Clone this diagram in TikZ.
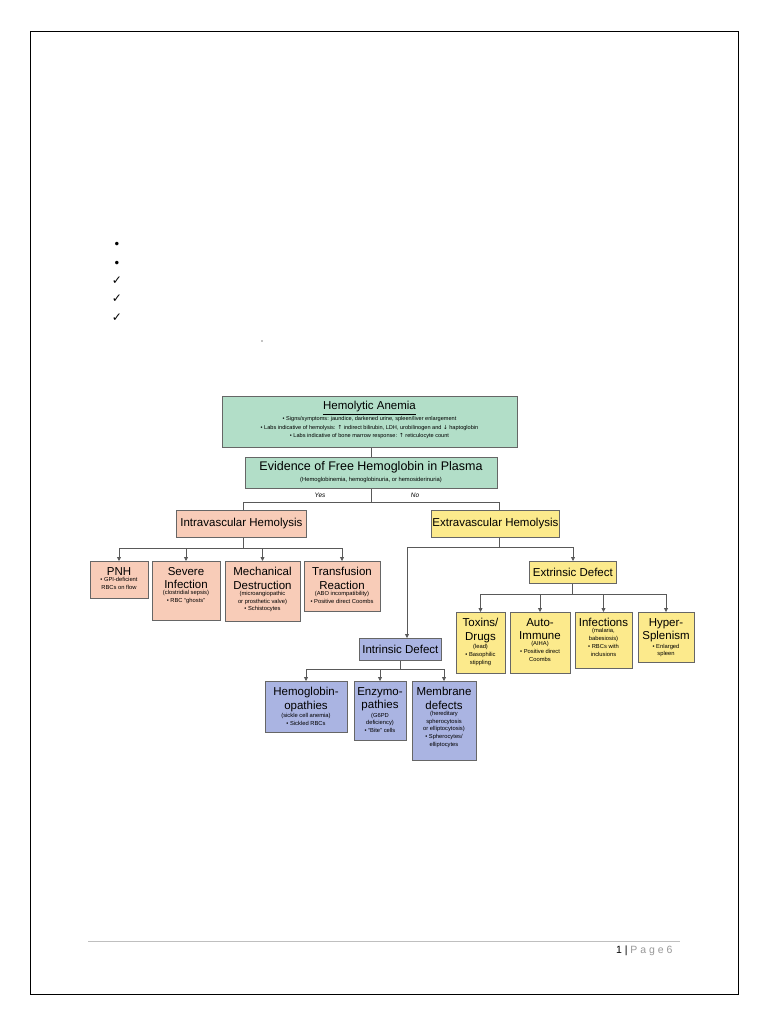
\documentclass[tikz,border=0pt]{standalone}
\usepackage{fontspec}
\setmainfont{Liberation Sans}
\newfontfamily\dv{DejaVu Sans}
\usetikzlibrary{arrows.meta}
\definecolor{cgr}{RGB}{178,222,200}
\definecolor{cpk}{RGB}{248,204,184}
\definecolor{cyl}{RGB}{252,234,140}
\definecolor{cbl}{RGB}{170,180,226}
\newcommand\bxt[5]{%
  \node[big,anchor=north] (#1t) at ([yshift=-3pt]#2,#3) {#4};
  \node[sm,anchor=north] (#1s) at (#1t.south) {#5};}
\begin{document}
\begin{tikzpicture}[x=1pt,y=-1pt,
  bx/.style={draw=black!60,line width=0.8pt,inner sep=0pt,anchor=north west},
  gr/.style={bx,fill=cgr},
  pk/.style={bx,fill=cpk},
  yl/.style={bx,fill=cyl},
  bl/.style={bx,fill=cbl},
  ln/.style={draw=black!65,line width=0.8pt},
  ar/.style={ln,-{Triangle[length=4pt,width=4pt]}},
  big/.style={font=\fontsize{11.5}{13.5}\selectfont,align=center,inner sep=0pt},
  sm/.style={font=\fontsize{5.8}{7.8}\selectfont,align=center,inner sep=0pt,inner ysep=1.5pt}]
\useasboundingbox (0,0) rectangle (768,1024);
\fill[white] (0,0) rectangle (768,1024);
\draw[line width=0.8pt] (30,31) rectangle (738,994);
\foreach \y/\s in {245/\textbullet,264/\textbullet,281/✓,299/✓,318/✓}
  \node[font=\dv\fontsize{12}{12}\selectfont] (b\y) at (117,\y) {\s};
\fill (262,341) circle (0.6);
\draw[black!25,line width=0.6pt] (88,941) -- (680,941);
\node[anchor=east,font=\fontsize{10.5}{11}\selectfont] (pg) at (676,951) {1 | \textcolor{black!40}{P a g e} \textcolor{black!40}{6}};
% boxes
\node[gr,minimum width=295,minimum height=51] (ha) at (222,396) {};
\node[big] (hat) at (369.5,408) {\underline{Hemolytic Anemia}};
\node[sm,font=\fontsize{5.6}{8.5}\selectfont] (has) at (369.5,428) {• Signs/symptoms: jaundice, darkened urine, spleen/liver enlargement\\• Labs indicative of hemolysis: {\dv↑} indirect bilirubin, LDH, urobilinogen and {\dv↓} haptoglobin\\• Labs indicative of bone marrow response: {\dv↑} reticulocyte count};
\node[gr,minimum width=252,minimum height=31] (ev) at (245,457) {};
\node[big,font=\fontsize{12.5}{13}\selectfont] (evt) at (371,467) {Evidence of Free Hemoglobin in Plasma};
\node[sm] (evs) at (371,480) {(Hemoglobinemia, hemoglobinuria, or hemosiderinuria)};
\node[sm,font=\itshape\fontsize{6.5}{7}\selectfont] (yes) at (320,495) {Yes};
\node[sm,font=\itshape\fontsize{6.5}{7}\selectfont] (no) at (415,495) {No};
\node[pk,minimum width=130,minimum height=27] (iv) at (176,510) {};
\node[big] at (iv.center) {Intravascular Hemolysis};
\node[yl,minimum width=128,minimum height=27] (xv) at (431,510) {};
\node[big] at (xv.center) {Extravascular Hemolysis};
% intravascular children
\node[pk,minimum width=58,minimum height=37] (pnh) at (90,561) {};
\bxt{pnh}{119}{564}{PNH}{• GPI-deficient\\RBCs on flow}
\node[pk,minimum width=68,minimum height=59] (sev) at (152,561) {};
\bxt{sev}{186}{564}{Severe\\Infection}{(clostridial sepsis)\\• RBC “ghosts”}
\node[pk,minimum width=75,minimum height=60] (mec) at (225,561) {};
\bxt{mec}{262.5}{564}{Mechanical\\Destruction}{(microangiopathic\\or prosthetic valve)\\• Schistocytes}
\node[pk,minimum width=76,minimum height=50] (tra) at (304,561) {};
\bxt{tra}{342}{564}{Transfusion\\Reaction}{(ABO incompatibility)\\• Positive direct Coombs}
% extrinsic
\node[yl,minimum width=87,minimum height=22] (ext) at (529,561) {};
\node[big] at (ext.center) {Extrinsic Defect};
\node[yl,minimum width=49,minimum height=61] (tox) at (456,612) {};
\bxt{tox}{480.5}{615}{Toxins/\\Drugs}{(lead)\\• Basophilic\\stippling}
\node[yl,minimum width=60,minimum height=61] (aut) at (510,612) {};
\bxt{aut}{540}{615}{Auto-\\Immune}{(AIHA)\\• Positive direct\\Coombs}
\node[yl,minimum width=57,minimum height=56] (inf) at (575,612) {};
\bxt{inf}{603.5}{615}{Infections}{(malaria,\\babesiosis)\\• RBCs with\\inclusions}
\node[yl,minimum width=56,minimum height=50] (hyp) at (638,612) {};
\bxt{hyp}{666}{615}{Hyper-\\Splenism}{• Enlarged\\spleen}
% intrinsic
\node[bl,minimum width=82,minimum height=22] (int) at (359,638) {};
\node[big] at (int.center) {Intrinsic Defect};
\node[bl,minimum width=82,minimum height=51] (hgb) at (265,681) {};
\bxt{hgb}{306}{684}{Hemoglobin-\\opathies}{(sickle cell anemia)\\• Sickled RBCs}
\node[bl,minimum width=52,minimum height=59] (enz) at (354,681) {};
\bxt{enz}{380}{684}{Enzymo-\\pathies}{(G6PD\\deficiency)\\• “Bite” cells}
\node[bl,minimum width=64,minimum height=79] (mem) at (412,681) {};
\bxt{mem}{444}{684}{Membrane\\defects}{(hereditary\\spherocytosis\\or elliptocytosis)\\• Spherocytes/\\elliptocytes}
% connectors
\draw[ln] (ha.south -| 371,0) -- (ev.north -| 371,0);
\draw[ln] (ev.south -| 371,0) -- (371,502);
\draw[ln] (iv.north -| 243,0) -- (243,502) -- (499,502) -- (xv.north -| 499,0);
\draw[ln] (iv.south -| 243,0) -- (243,548);
\draw[ln] (119,548) -- (342,548);
\draw[ar] (119,548) -- (pnh.north -| 119,0);
\draw[ar] (186,548) -- (sev.north -| 186,0);
\draw[ar] (262.5,548) -- (mec.north -| 262.5,0);
\draw[ar] (342,548) -- (tra.north -| 342,0);
\draw[ln] (xv.south -| 499,0) -- (499,547);
\draw[ln] (407,547) -- (573,547);
\draw[ar] (573,547) -- (ext.north -| 573,0);
\draw[ar] (407,547) -- (int.north -| 407,0);
\draw[ln] (ext.south -| 572,0) -- (572,594);
\draw[ln] (480.5,594) -- (666,594);
\draw[ar] (480.5,594) -- (tox.north -| 480.5,0);
\draw[ar] (540,594) -- (aut.north -| 540,0);
\draw[ar] (603.5,594) -- (inf.north -| 603.5,0);
\draw[ar] (666,594) -- (hyp.north -| 666,0);
\draw[ln] (int.south -| 400,0) -- (400,669);
\draw[ln] (306,669) -- (444,669);
\draw[ar] (306,669) -- (hgb.north -| 306,0);
\draw[ar] (380,669) -- (enz.north -| 380,0);
\draw[ar] (444,669) -- (mem.north -| 444,0);
\end{tikzpicture}
\end{document}
